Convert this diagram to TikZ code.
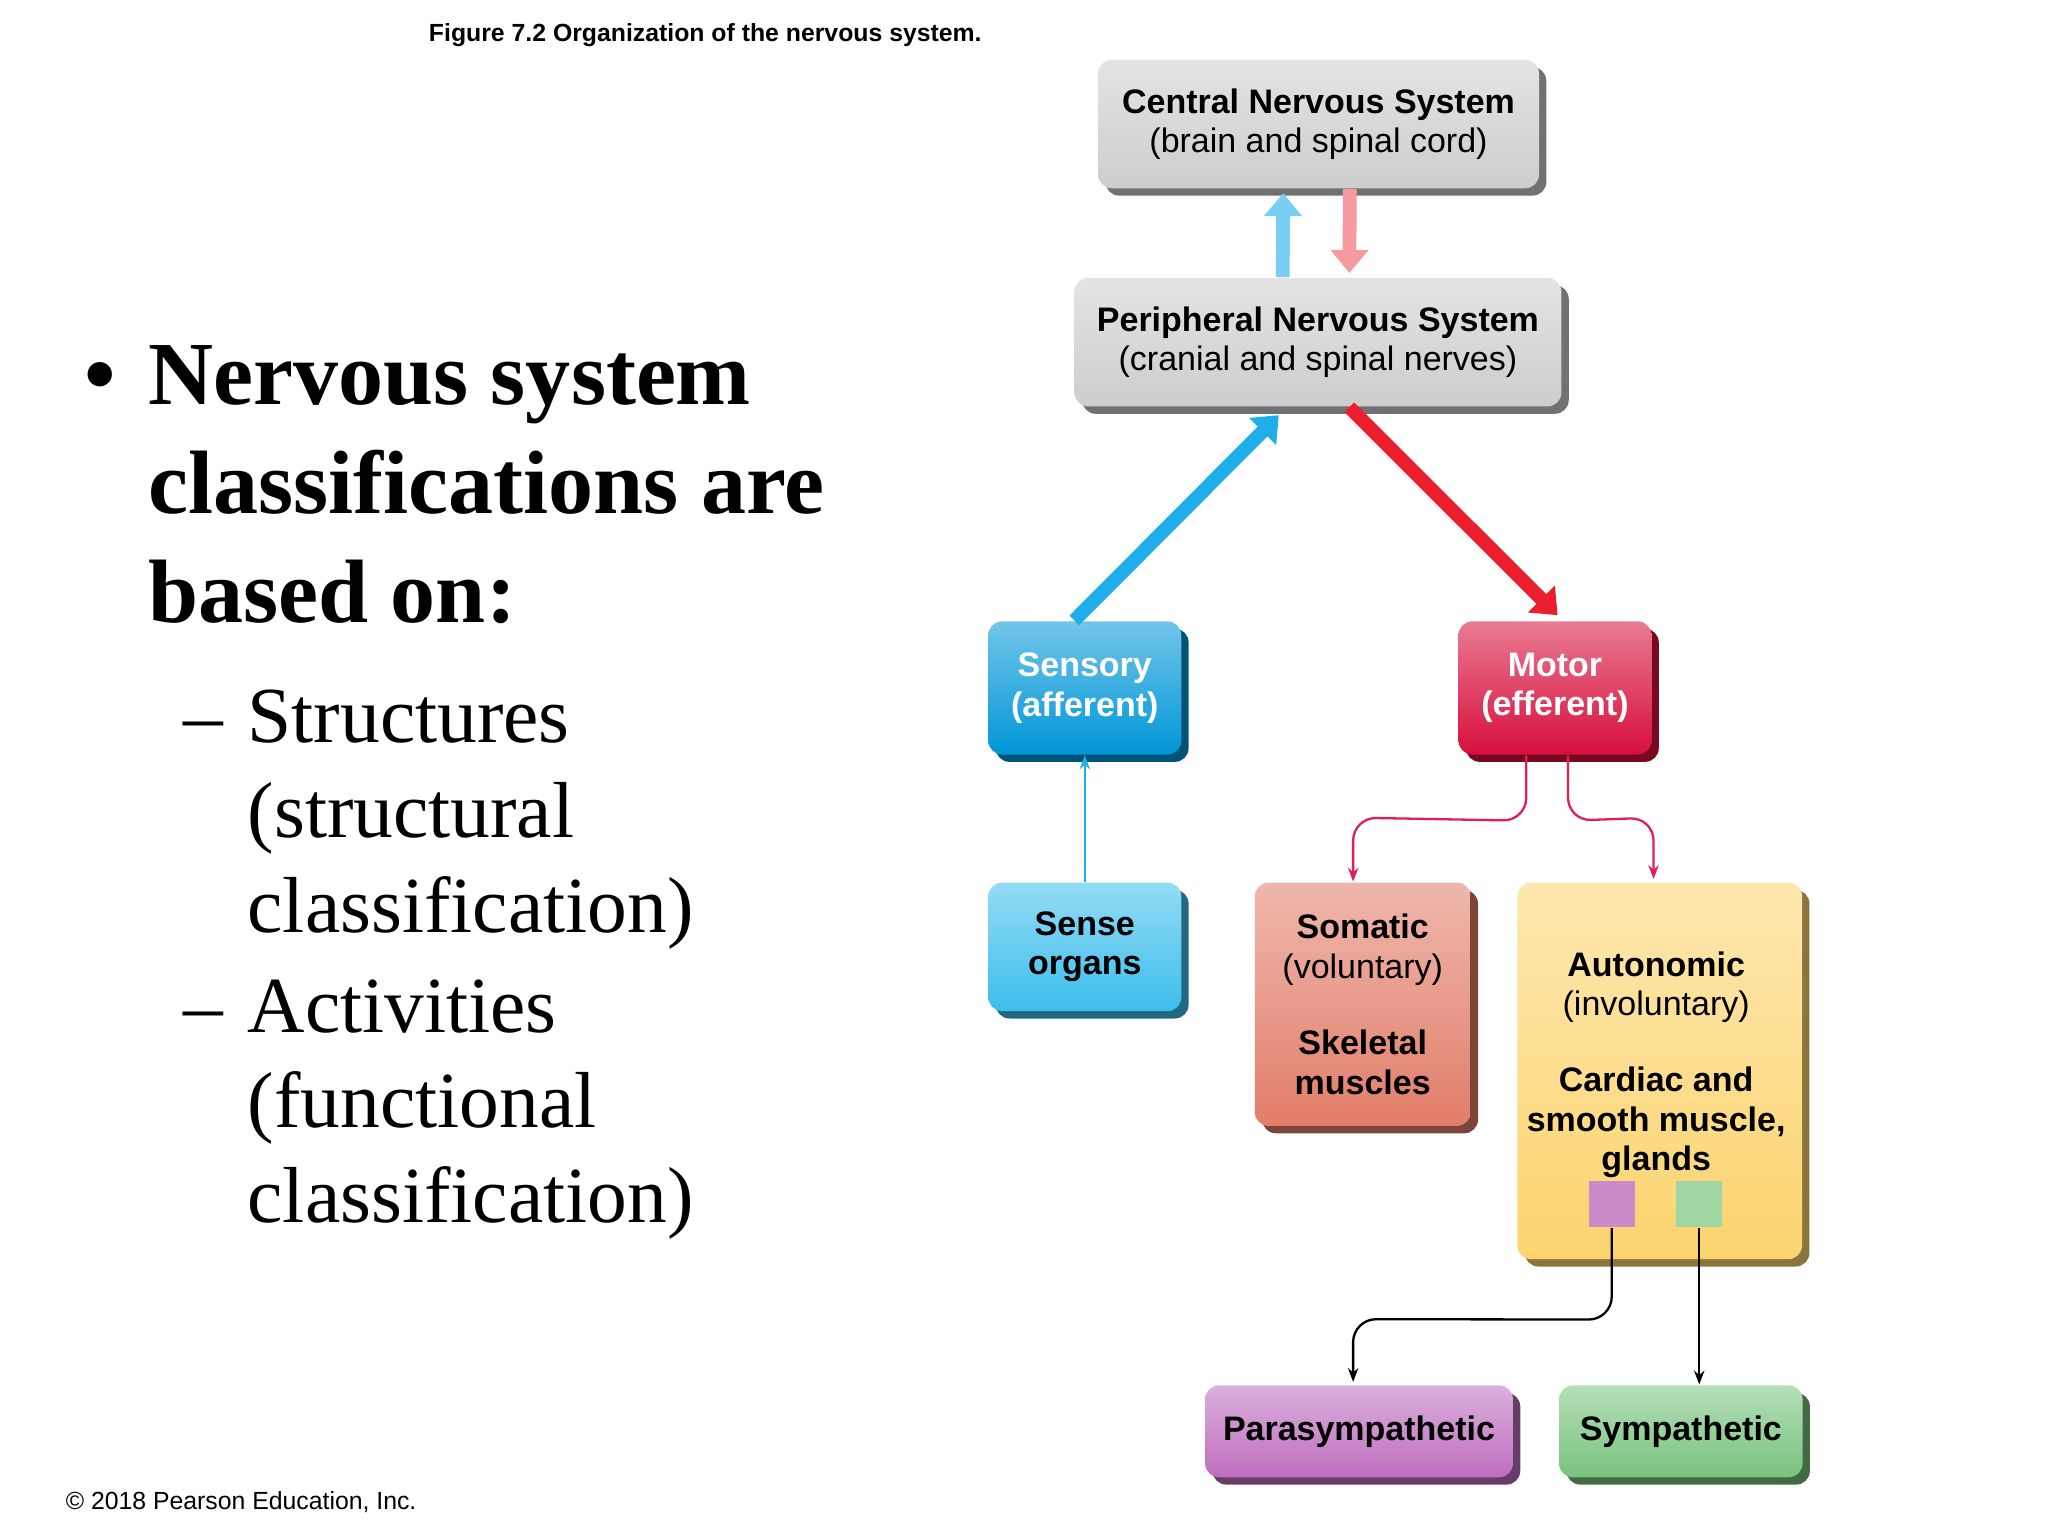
\documentclass[tikz,border=0pt]{standalone}
\usepackage{fontspec}
\setmainfont{Liberation Serif}
\newfontfamily\boxfont{Liberation Sans}
\usetikzlibrary{positioning,arrows.meta,shadows,calc}
\definecolor{cnsgray}{RGB}{205,205,205}
\definecolor{sensblue}{RGB}{0,150,215}
\definecolor{organblue}{RGB}{60,190,235}
\definecolor{motorred}{RGB}{215,15,60}
\definecolor{somred}{RGB}{225,125,105}
\definecolor{autyellow}{RGB}{252,212,110}
\definecolor{parpurple}{RGB}{190,110,190}
\definecolor{symgreen}{RGB}{120,195,125}
\definecolor{upblue}{RGB}{30,175,235}
\definecolor{downred}{RGB}{235,30,45}
\definecolor{wirered}{RGB}{225,30,90}

\begin{document}
\begin{tikzpicture}
[
  x=0.01cm, y=-0.01cm,
  box/.style={rounded corners=3pt, anchor=north west, align=center, inner sep=1pt,
    font=\boxfont\fontsize{7.4}{8.6}\selectfont,
    top color=#1!55!white, bottom color=#1,
    drop shadow={shadow xshift=1.6pt, shadow yshift=-1.6pt, fill=#1!55!black, opacity=1}},
  big arrow/.style={line width=3pt, -{Triangle[length=5pt,width=8pt]}},
  thin arrow/.style={line width=0.5pt, -{Stealth[length=3pt]}, rounded corners=5pt}
]
\useasboundingbox (0,0) rectangle (1568,1176);

% left text
\node (fig) [anchor=west, font=\boxfont\bfseries\fontsize{5.4}{6}\selectfont] at (316,27) {Figure 7.2 Organization of the nervous system.};
\node (copy) [anchor=west, font=\boxfont\fontsize{5.4}{6}\selectfont] at (38,1150) {\textcopyright{} 2018 Pearson Education, Inc.};
\node (bullet) [anchor=north west, align=left, font=\bfseries\fontsize{19.6}{23.8}\selectfont] at (52,252)
  {\makebox[14pt][l]{\textbullet}Nervous system\\\hspace*{14pt}classifications are\\\hspace*{14pt}based on:};
\node (sub) [anchor=north west, align=left, font=\fontsize{17.3}{20.7}\selectfont] at (128,516)
  {\makebox[14pt][l]{--}Structures\\\hspace*{14pt}(structural\\\hspace*{14pt}classification)\\[1pt]
   \makebox[14pt][l]{--}Activities\\\hspace*{14pt}(functional\\\hspace*{14pt}classification)};

% boxes
\node (cns) [box=cnsgray, minimum width=96pt, minimum height=28pt] at (840,45)
  {\textbf{Central Nervous System}\\(brain and spinal cord)};
\node (pns) [box=cnsgray, minimum width=106pt, minimum height=28pt] at (822,212)
  {\textbf{Peripheral Nervous System}\\(cranial and spinal nerves)};
\node (sens) [box=sensblue, text=white, minimum width=42pt, minimum height=29pt] at (756,475)
  {\textbf{Sensory}\\\textbf{(afferent)}};
\node (motor) [box=motorred, text=white, minimum width=42pt, minimum height=29pt] at (1116,475)
  {\textbf{Motor}\\\textbf{(efferent)}};
\node (organs) [box=organblue, minimum width=42pt, minimum height=28pt] at (756,675)
  {\textbf{Sense}\\\textbf{organs}};
\node (som) [box=somred, minimum width=47pt, minimum height=53pt] at (960,675)
  {\textbf{Somatic}\\(voluntary)\\[8pt]\textbf{Skeletal}\\\textbf{muscles}};
\node (aut) [box=autyellow, minimum width=62pt, minimum height=82pt, anchor=north west] at (1161,675) {};
\node (auttext) [anchor=north, align=center, font=\boxfont\fontsize{7.4}{8.6}\selectfont] at (1268,716)
  {\textbf{Autonomic}\\(involuntary)\\[8pt]\textbf{Cardiac and}\\\textbf{smooth muscle,}\\\textbf{glands}};
\node (psq) [fill=parpurple!80, minimum size=10pt, inner sep=0pt] at (1234,922) {};
\node (ssq) [fill=symgreen!70, minimum size=10pt, inner sep=0pt] at (1301,922) {};
\node (para) [box=parpurple, minimum width=67pt, minimum height=20pt] at (922,1060) {\textbf{Parasympathetic}};
\node (symp) [box=symgreen, minimum width=53pt, minimum height=20pt] at (1193,1060) {\textbf{Sympathetic}};

% connectors
\draw [big arrow, upblue!60] ($(pns.north)+(-27,0)$) -- ($(cns.south)+(-27,3)$);
\draw [big arrow, downred!45] ($(cns.south)+(24,0)$) -- ($(pns.north)+(24,-3)$);
\draw [big arrow, upblue] ($(sens.north)+(-8,0)$) -- ($(pns.south)+(-30,6)$);
\draw [big arrow, downred] ($(pns.south)+(24,0)$) -- ($(motor.north)+(2,-4)$);
\draw [thin arrow, upblue] (organs.north) -- (sens.south);
\draw [thin arrow, wirered] ($(motor.south)+(-22,0)$) -- ++(0,50) -- (1036,626) -- (som.north -| 1036,0);
\draw [thin arrow, wirered] ($(motor.south)+(10,0)$) -- ++(0,50) -- (1266,626) -- (1266,673);
\draw [thin arrow, black] (psq.south) -- ++(0,70) -- (1036,1010) -- (1036,1058);
\draw [thin arrow, black] (ssq.south) -- (ssq.south |- symp.north);
\end{tikzpicture}
\end{document}
